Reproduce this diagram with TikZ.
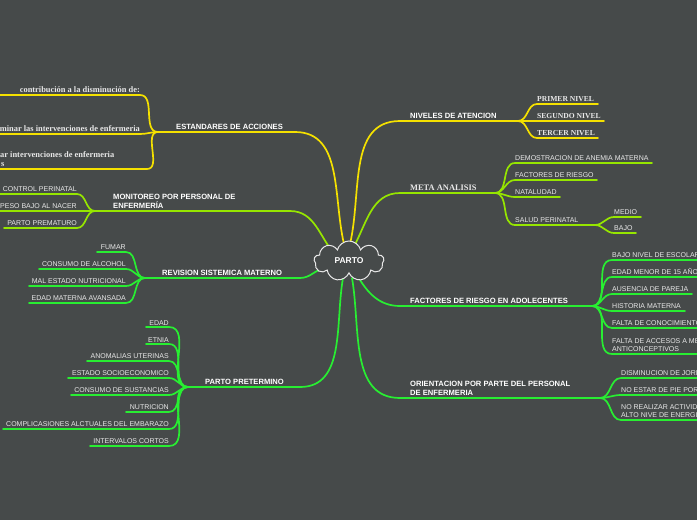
\documentclass[tikz,border=0pt]{standalone}
\usepackage{fontspec}
\setmainfont{Liberation Sans}
\newfontfamily\serifb{Liberation Serif}
\usetikzlibrary{shapes.symbols}
\definecolor{bg}{RGB}{70,74,74}
\definecolor{cy}{RGB}{245,225,0}
\definecolor{cl}{RGB}{150,230,0}
\definecolor{cg}{RGB}{40,238,50}
\definecolor{tx}{RGB}{232,232,232}
\tikzset{
 lbl/.style={text=tx,font=\fontsize{7}{8.3}\selectfont,inner xsep=0pt,inner ysep=1.8pt,align=left},
 slbl/.style={text=tx,font=\fontsize{7.6}{8.5}\selectfont\serifb\bfseries,inner xsep=0pt,inner ysep=1.8pt,align=left},
 sslbl/.style={text=tx,font=\fontsize{8.4}{9}\selectfont\serifb\bfseries,inner xsep=0pt,inner ysep=1.8pt,align=left},
 mlbl/.style={text=white,font=\fontsize{7.6}{9}\selectfont\bfseries,inner xsep=0pt,inner ysep=2.5pt,align=left},
 ln/.style={line width=1.7pt,line cap=round},
}
\newcommand\rch[7]{\node[#6,anchor=south west] (#7) at (#2,#3) {#5};
 \coordinate (#7e) at (#4,#3);
 \draw[ln,#1] (#7j) to[out=0,in=180] (#7.south west) -- (#7e);}
\newcommand\lch[7]{\node[#6,anchor=south east] (#7) at (#2,#3) {#5};
 \coordinate (#7e) at (#4,#3);
 \draw[ln,#1] (#7j) to[out=180,in=0] (#7.south east) -- (#7e);}
\begin{document}
\begin{tikzpicture}[x=1pt,y=-1pt]
\fill[bg] (0,0) rectangle (697,520);
\clip (0,0) rectangle (697,520);
% main branches
\node[mlbl,anchor=south west] (niv) at (410,121) {NIVELES DE ATENCION};
\coordinate (nivj) at (518,121);
\draw[ln,cy] (349,248) to[out=75,in=180] (400,121) -- (nivj);
\node[slbl,anchor=south west,font=\fontsize{8.4}{9}\selectfont\serifb\bfseries] (met) at (410,193) {META ANALISIS};
\coordinate (metj) at (495,193);
\draw[ln,cl] (352,250) to[out=60,in=180] (400,193) -- (metj);
\node[mlbl,anchor=south west] (fac) at (410,306) {FACTORES DE RIESGO EN ADOLECENTES};
\coordinate (facj) at (592,306);
\draw[ln,cg] (357,275) to[out=-60,in=180] (400,306) -- (facj);
\node[mlbl,anchor=south west] (ori) at (410,398) {ORIENTACION POR PARTE DEL PERSONAL\\DE ENFERMERIA};
\coordinate (orij) at (600,398);
\draw[ln,cg] (352,278) to[out=-80,in=180] (400,398) -- (orij);
\node[mlbl,anchor=south west] (est) at (176,132) {ESTANDARES DE ACCIONES};
\coordinate (estj) at (158,132);
\draw[ln,cy] (345,248) to[out=105,in=0] (295,132) -- (estj);
\node[mlbl,anchor=south west] (mon) at (113,211) {MONITOREO POR PERSONAL DE\\ENFERMERÍA};
\coordinate (monj) at (95,211);
\draw[ln,cl] (335,255) to[out=130,in=0] (290,211) -- (monj);
\node[mlbl,anchor=south west] (rev) at (162,278) {REVISION SISTEMICA MATERNO};
\coordinate (revj) at (145,278);
\draw[ln,cg] (325,268) to[out=190,in=0] (300,278) -- (revj);
\node[mlbl,anchor=south west] (par) at (205,387) {PARTO PRETERMINO};
\coordinate (parj) at (188,387);
\draw[ln,cg] (343,278) to[out=-100,in=0] (300,387) -- (parj);
% center
\node[cloud,cloud puffs=9,aspect=1.9,draw=tx,fill=bg,line width=1pt,text=white,font=\fontsize{8.5}{9}\selectfont\bfseries,minimum width=70pt,minimum height=40pt] (c) at (349,261) {PARTO};
% niveles
\coordinate (a1j) at (nivj);\coordinate (a2j) at (nivj);\coordinate (a3j) at (nivj);
\rch{cy}{537}{104}{598}{PRIMER NIVEL}{slbl}{a1}
\rch{cy}{537}{121}{604}{SEGUNDO NIVEL}{slbl}{a2}
\rch{cy}{537}{138}{598}{TERCER NIVEL}{slbl}{a3}
% meta
\foreach \n in {b1,b2,b3,b4}{\coordinate (\n j) at (metj);}
\rch{cl}{515}{163}{652}{DEMOSTRACION DE ANEMIA MATERNA}{lbl}{b1}
\rch{cl}{515}{180}{597}{FACTORES DE RIESGO}{lbl}{b2}
\rch{cl}{515}{197}{560}{NATALUDAD}{lbl}{b3}
\rch{cl}{515}{225}{595}{SALUD PERINATAL}{lbl}{b4}
\coordinate (b5j) at (b4e);\coordinate (b6j) at (b4e);
\rch{cl}{614}{217}{641}{MEDIO}{lbl}{b5}
\rch{cl}{614}{233}{636}{BAJO}{lbl}{b6}
% factores
\foreach \n in {d1,d2,d3,d4,d5,d6}{\coordinate (\n j) at (facj);}
\rch{cg}{612}{260}{700}{BAJO NIVEL DE ESCOLARIDAD}{lbl}{d1}
\rch{cg}{612}{277}{700}{EDAD MENOR DE 15 AÑOS}{lbl}{d2}
\rch{cg}{612}{294}{692}{AUSENCIA DE PAREJA}{lbl}{d3}
\rch{cg}{612}{311}{685}{HISTORIA MATERNA}{lbl}{d4}
\rch{cg}{612}{328}{700}{FALTA DE CONOCIMIENTOS}{lbl}{d5}
\rch{cg}{612}{354}{700}{FALTA DE ACCESOS A METODOS\\ANTICONCEPTIVOS}{lbl}{d6}
% orientacion
\foreach \n in {e1,e2,e3}{\coordinate (\n j) at (orij);}
\rch{cg}{621}{378}{700}{DISMINUCION DE JORNADA}{lbl}{e1}
\rch{cg}{621}{395}{700}{NO ESTAR DE PIE POR}{lbl}{e2}
\rch{cg}{621}{420}{700}{NO REALIZAR ACTIVIDADES DE\\ALTO NIVE DE ENERGIA}{lbl}{e3}
% estandares
\foreach \n in {f1,f2,f3}{\coordinate (\n j) at (estj);}
\lch{cy}{140}{95}{-5}{contribución a la disminución de:}{sslbl}{f1}
\lch{cy}{140}{134}{-5}{Determinar las intervenciones de enfermeria}{sslbl}{f2}
\node[sslbl,anchor=south west] (f3) at (1,169) {\hspace*{-22pt}Evaluar intervenciones de enfermeria\\s};
\coordinate (f3e) at (-5,169);\coordinate (f3r) at (147,169);
\draw[ln,cy] (f3j) to[out=180,in=0] (f3r) -- (f3e);
% monitoreo
\foreach \n in {g1,g2,g3}{\coordinate (\n j) at (monj);}
\lch{cl}{77}{194}{-5}{CONTROL PERINATAL}{lbl}{g1}
\lch{cl}{77}{211}{-5}{PESO BAJO AL NACER}{lbl}{g2}
\lch{cl}{77}{228}{4}{PARTO PREMATURO}{lbl}{g3}
% revision
\foreach \n in {h1,h2,h3,h4}{\coordinate (\n j) at (revj);}
\lch{cg}{126}{252}{97}{FUMAR}{lbl}{h1}
\lch{cg}{126}{269}{39}{CONSUMO DE ALCOHOL}{lbl}{h2}
\lch{cg}{126}{286}{29}{MAL ESTADO NUTRICIONAL}{lbl}{h3}
\lch{cg}{126}{303}{29}{EDAD MATERNA AVANSADA}{lbl}{h4}
% parto pretermino
\foreach \n in {p1,p2,p3,p4,p5,p6,p7,p8}{\coordinate (\n j) at (parj);}
\lch{cg}{169}{327}{146}{EDAD}{lbl}{p1}
\lch{cg}{169}{344}{146}{ETNIA}{lbl}{p2}
\lch{cg}{169}{361}{87}{ANOMALIAS UTERINAS}{lbl}{p3}
\lch{cg}{169}{378}{68}{ESTADO SOCIOECONOMICO}{lbl}{p4}
\lch{cg}{169}{395}{71}{CONSUMO DE SUSTANCIAS}{lbl}{p5}
\lch{cg}{169}{412}{126}{NUTRICION}{lbl}{p6}
\lch{cg}{169}{429}{3}{COMPLICASIONES ALCTUALES DEL EMBARAZO}{lbl}{p7}
\lch{cg}{169}{446}{90}{INTERVALOS CORTOS}{lbl}{p8}
\end{tikzpicture}
\end{document}
